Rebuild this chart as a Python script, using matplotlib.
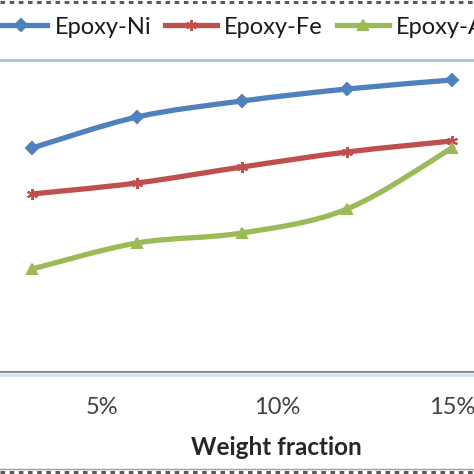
#%%
# filler loading vs property, three epoxy composites (excel style chart)
import numpy as np
import matplotlib
matplotlib.use('Agg')
import matplotlib.pyplot as plt
from matplotlib.path import Path
from matplotlib.patches import PathPatch
from matplotlib.lines import Line2D


#%%
weight_pct = [3, 6, 9, 12, 15]
epoxy_ni = [224, 255, 271, 283, 292]
epoxy_fe = [178, 189, 205, 220, 231]
epoxy_al = [103, 129, 139, 163, 224]
tick_pos = [5, 10, 15]
tick_labels = ['5%', '10%', '15%']

c_blue = '#4F81BD'
c_red = '#C0504D'
c_green = '#9BBB59'
font = ['Lato', 'DejaVu Sans']


#%%
def smooth_path(x, y, t=1/6.):
    # excel-like smoothed line: cubic bezier through the points
    x = np.asarray(x, float)
    y = np.asarray(y, float)
    verts = [(x[0], y[0])]
    codes = [Path.MOVETO]
    n = len(x)
    for i in range(n - 1):
        p0 = (x[max(i - 1, 0)], y[max(i - 1, 0)])
        p1 = (x[i], y[i])
        p2 = (x[i + 1], y[i + 1])
        p3 = (x[min(i + 2, n - 1)], y[min(i + 2, n - 1)])
        c1 = (p1[0] + (p2[0] - p0[0]) * t, p1[1] + (p2[1] - p0[1]) * t)
        c2 = (p2[0] - (p3[0] - p1[0]) * t, p2[1] - (p3[1] - p1[1]) * t)
        verts += [c1, c2, p2]
        codes += [Path.CURVE4] * 3
    return Path(verts, codes)


def plot_series(ax, y, color, marker, ms, label):
    ax.add_patch(PathPatch(smooth_path(weight_pct, y), fill=False, edgecolor=color, lw=3.8, capstyle='round', zorder=3))
    ax.plot(weight_pct, y, ls='none', marker=marker, ms=ms, color=color, mec=color, mew=1.5, zorder=4)
    return Line2D([0], [0], color=color, lw=3.8, marker=marker, ms=ms, mec=color, mew=1.5, label=label)


#%%
fig = plt.figure(figsize=(4.74, 4.74), dpi=100)
ax = fig.add_axes([0, (474 - 372) / 474, 1, (372 - 60) / 474])

h1 = plot_series(ax, epoxy_ni, c_blue, 'D', 6.5, 'Epoxy-Ni')
h2 = plot_series(ax, epoxy_fe, c_red, (6, 2, 0), 8, 'Epoxy-Fe')
h3 = plot_series(ax, epoxy_al, c_green, '^', 7.5, 'Epoxy-Al')

ax.set_xlim(3 - 32 / 35., 15 + 22 / 35.)
ax.set_ylim(0, 312)
ax.set_yticks([])
ax.set_xticks(tick_pos)
ax.set_xticklabels(tick_labels, family=font, fontsize=17, color='#404040')
ax.tick_params(axis='x', length=0, pad=18)
ax.set_xlabel('Weight fraction', family=font, fontsize=17.5, fontweight='bold', color='#262626')
ax.xaxis.set_label_coords(276 / 474., -64 / 312.)

for s in ['left', 'right']:
    ax.spines[s].set_visible(False)
ax.spines['top'].set_color('#AFC4E2')
ax.spines['top'].set_linewidth(2.2)
ax.spines['bottom'].set_color('#858C96')
ax.spines['bottom'].set_linewidth(1.6)

# light shade under the axis line
fig.add_artist(Line2D([0, 1], [(474 - 374.5) / 474] * 2, color='#D5E0F0', lw=2.0))

leg = fig.legend(handles=[h1, h2, h3], ncol=3, loc='center', bbox_to_anchor=(243 / 474., 1 - 27 / 474.),
                 frameon=False, prop={'family': font, 'size': 17}, handlelength=2.2,
                 handletextpad=0.3, columnspacing=0.6)
for t in leg.get_texts():
    t.set_color('#1a1a1a')

# dashed frame of the source picture
fig.add_artist(Line2D([0, 1], [1 - 1.5 / 474] * 2, color='#5a5a5a', lw=2.2, dashes=(1.5, 1.5)))
fig.add_artist(Line2D([0, 1], [2 / 474.] * 2, color='#5a5a5a', lw=2.2, dashes=(1.5, 1.5)))
fig.add_artist(Line2D([0, 1], [5 / 474.] * 2, color='#A0A0A0', lw=1.0))

fig.savefig('out.png', dpi=100)
plt.close()
